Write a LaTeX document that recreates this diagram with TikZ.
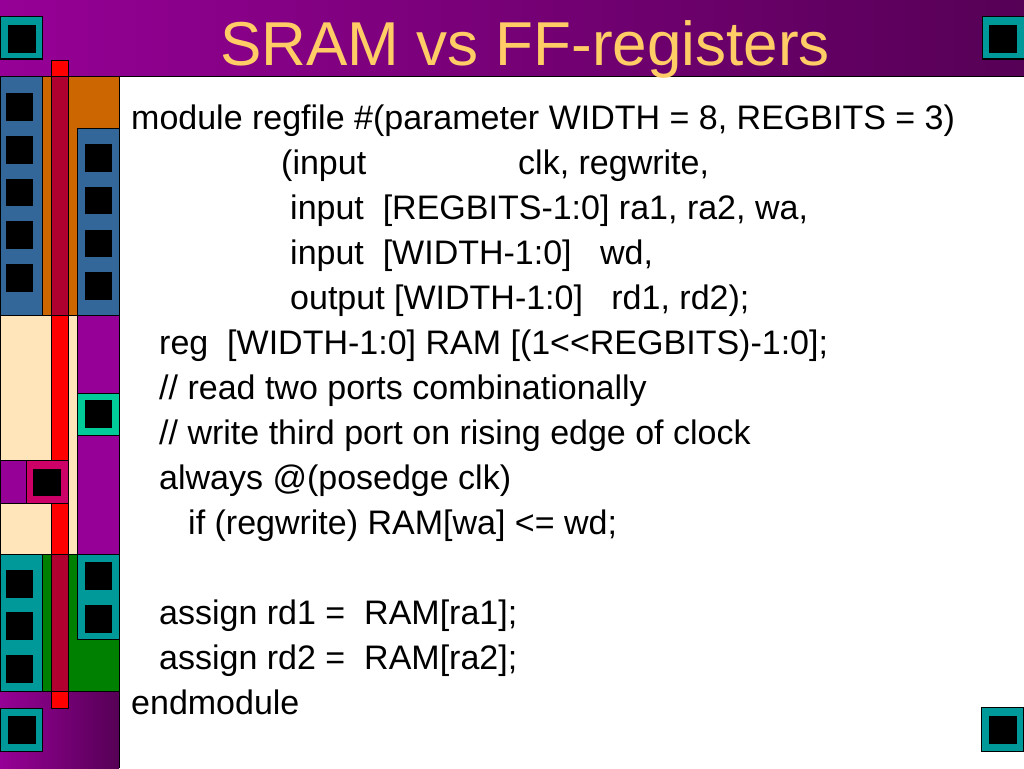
\documentclass[tikz,border=0pt]{standalone}
\usepackage{fontspec}
\setmainfont{Liberation Sans}
\definecolor{slidepurple}{RGB}{150,0,150}
\definecolor{darkpurple}{RGB}{86,0,86}
\definecolor{titleorange}{RGB}{255,204,102}
\definecolor{steelblue}{RGB}{51,102,153}
\definecolor{rust}{RGB}{204,102,0}
\definecolor{wine}{RGB}{176,0,48}
\definecolor{peach}{RGB}{255,229,185}
\definecolor{rose}{RGB}{204,0,102}
\definecolor{tealbox}{RGB}{0,153,153}
\definecolor{mint}{RGB}{0,204,153}
\definecolor{leaf}{RGB}{0,128,0}
\newcommand{\codefont}{\fontsize{34}{45}\selectfont}
\newcommand{\titlefont}{\fontsize{62}{70}\selectfont}
\tikzset{
  panel/.style={draw=black, line width=1pt},
  hole/.style={fill=black, draw=black, line width=0.6pt},
  codeline/.style={anchor=base west, inner sep=0pt, font=\codefont},
}

\begin{document}
\begin{tikzpicture}[x=1pt,y=-1pt]
\useasboundingbox (0,0) rectangle (1024,768);
\fill[white] (0,0) rectangle (1024,768);

% title bar
\shade[left color=slidepurple, right color=darkpurple] (0,0) rectangle (1024,76);
\draw[line width=1pt] (0,76) -- (1024,76);
\node[anchor=base west, inner sep=0pt, font=\titlefont, text=titleorange] (title) at (220,65) {SRAM vs FF-registers};

% corner chips
\draw[panel, fill=tealbox] (0,17) rectangle (42,59);
\draw[hole] (8,25) rectangle (35,52);
\draw[panel, fill=tealbox] (982,17) rectangle (1024,59);
\draw[hole] (989,25) rectangle (1016,52);
\draw[panel, fill=tealbox] (981,707) rectangle (1023,751);
\draw[hole] (989,716) rectangle (1016,743);

% left strip, upper part
\draw[panel, fill=rust] (42,76) rectangle (119,315);
\draw[panel, fill=steelblue] (0,76) rectangle (42,315);
\draw[panel, fill=steelblue] (77,128) rectangle (119,315);
\draw[hole] (6,93) rectangle (32,120);
\draw[hole] (6,136) rectangle (32,163);
\draw[hole] (6,179) rectangle (32,205);
\draw[hole] (6,221) rectangle (32,248);
\draw[hole] (6,264) rectangle (32,291);
\draw[hole] (85,144) rectangle (111,171);
\draw[hole] (85,187) rectangle (111,213);
\draw[hole] (85,230) rectangle (111,256);
\draw[hole] (85,272) rectangle (111,299);

% left strip, middle part
\draw[panel, fill=peach] (0,315) rectangle (77,554);
\draw[panel, fill=slidepurple] (77,315) rectangle (119,554);
\draw[panel, fill=mint] (77,393) rectangle (119,435);
\draw[hole] (85,400) rectangle (111,427);

% left strip, lower part
\draw[panel, fill=leaf] (42,554) rectangle (119,691);
\draw[panel, fill=tealbox] (0,554) rectangle (42,691);
\draw[panel, fill=tealbox] (77,554) rectangle (119,639);
\draw[hole] (6,570) rectangle (32,597);
\draw[hole] (6,612) rectangle (32,639);
\draw[hole] (6,655) rectangle (32,682);
\draw[hole] (85,562) rectangle (111,589);
\draw[hole] (85,605) rectangle (111,632);
\shade[left color=slidepurple, right color=darkpurple] (0,691) rectangle (119,768);
\draw[line width=1pt] (0,691) -- (119,691) -- (119,768);
\draw[panel, fill=tealbox] (0,708) rectangle (42,751);
\draw[hole] (8,716) rectangle (35,743);

% red strip
\draw[panel, fill=red] (51,60) rectangle (68,708);
\draw[panel, fill=wine] (51,76) rectangle (68,315);
\draw[panel, fill=wine] (51,554) rectangle (68,691);
\draw[panel, fill=slidepurple] (0,460) rectangle (26,503);
\draw[panel, fill=rose] (26,460) rectangle (68,503);
\draw[hole] (33,469) rectangle (60,495);

% code
\node[codeline] (l1) at (131,129) {module regfile \#(parameter WIDTH = 8, REGBITS = 3)};
\node[codeline] (l2a) at (281,174) {(input};
\node[codeline] (l2b) at (518,174) {clk, regwrite,};
\node[codeline] (l3) at (290,219) {input\ \ [REGBITS-1:0] ra1, ra2, wa,};
\node[codeline] (l4) at (290,264) {input\ \ [WIDTH-1:0]\ \ \ wd,};
\node[codeline] (l5) at (290,309) {output [WIDTH-1:0]\ \ \ rd1, rd2);};
\node[codeline] (l6) at (159,354) {reg\ \ [WIDTH-1:0] RAM [(1<{}<REGBITS)-1:0];};
\node[codeline] (l7) at (159,399) {// read two ports combinationally};
\node[codeline] (l8) at (159,444) {// write third port on rising edge of clock};
\node[codeline] (l9) at (159,489) {always @(posedge clk)};
\node[codeline] (l10) at (188,534) {if (regwrite) RAM[wa] <= wd;};
\node[codeline] (l12) at (159,624) {assign rd1 =\ \ RAM[ra1];};
\node[codeline] (l13) at (159,669) {assign rd2 =\ \ RAM[ra2];};
\node[codeline] (l14) at (131,714) {endmodule};
\end{tikzpicture}
\end{document}
